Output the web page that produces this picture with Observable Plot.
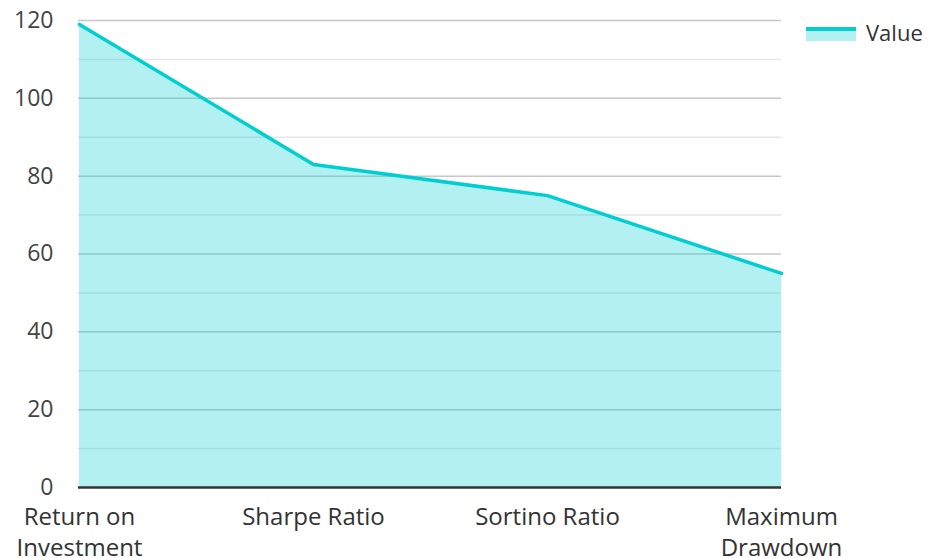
<!DOCTYPE html>
<html>
<head>
<meta charset="utf-8">
<script src="https://cdn.jsdelivr.net/npm/d3@7"></script>
<script src="https://cdn.jsdelivr.net/npm/@observablehq/plot@0.6"></script>
<style>
  html, body { margin: 0; padding: 0; background: #fff; }
  #wrap { position: relative; width: 931px; height: 558px; font-family: "Open Sans", sans-serif; }
  #legend { position: absolute; left: 806px; top: 17px; display: flex; align-items: center; font-size: 22px; color: #333; line-height: 30px; }
  #legend .sw { width: 50px; height: 14px; position: relative; margin-right: 10px; margin-top: 4px; }
  #legend .sw .fill { position: absolute; left: 0; right: 0; top: 2px; bottom: 0; background: rgba(0,206,209,0.3); }
  #legend .sw .ln { position: absolute; left: 0; right: 0; top: 0px; height: 4px; background: #00ced1; }
  svg text { font-family: "Open Sans", sans-serif; }
</style>
</head>
<body>
<div id="wrap">
  <div id="chart"></div>
  <div id="legend"><div class="sw"><div class="fill"></div><div class="ln"></div></div><span>Value</span></div>
</div>
<script>
const categories = ["Return on Investment", "Sharpe Ratio", "Sortino Ratio", "Maximum Drawdown"];
const tickLabels = ["Return on\nInvestment", "Sharpe Ratio", "Sortino Ratio", "Maximum\nDrawdown"];
const values = [119, 83, 75, 55];
const majorTicks = [0, 20, 40, 60, 80, 100, 120];
const minorTicks = [10, 30, 50, 70, 90, 110];

const data = categories.map((c, i) => ({category: c, value: values[i]}));
const labelOf = new Map(categories.map((c, i) => [c, tickLabels[i]]));

const chart = Plot.plot({
  width: 931,
  height: 558,
  marginLeft: 78,
  marginRight: 150,
  marginTop: 20,
  marginBottom: 71,
  style: {fontFamily: "Open Sans, sans-serif", fontSize: "23px", color: "#444", background: "#fff"},
  x: {type: "point", domain: categories, padding: 0},
  y: {domain: [0, 120]},
  marks: [
    Plot.ruleY(minorTicks, {stroke: "#e6e6e6", strokeWidth: 1.5}),
    Plot.ruleY(majorTicks.filter(d => d !== 0), {stroke: "#c8c8c8", strokeWidth: 1.5}),
    Plot.areaY(data, {x: "category", y: "value", fill: "#00ced1", fillOpacity: 0.3}),
    Plot.lineY(data, {x: "category", y: "value", stroke: "#00ced1", strokeWidth: 3.5}),
    Plot.ruleY([0], {stroke: "#333", strokeWidth: 2.5}),
    Plot.axisY({ticks: majorTicks, tickSize: 0, tickPadding: 25, label: null, fontSize: 23, fill: "#444"}),
    Plot.axisX({tickSize: 0, tickPadding: 16, label: null, fontSize: 24, fill: "#333", lineHeight: 1.28, tickFormat: d => labelOf.get(d)})
  ]
});
document.getElementById("chart").appendChild(chart);
</script>
</body>
</html>
